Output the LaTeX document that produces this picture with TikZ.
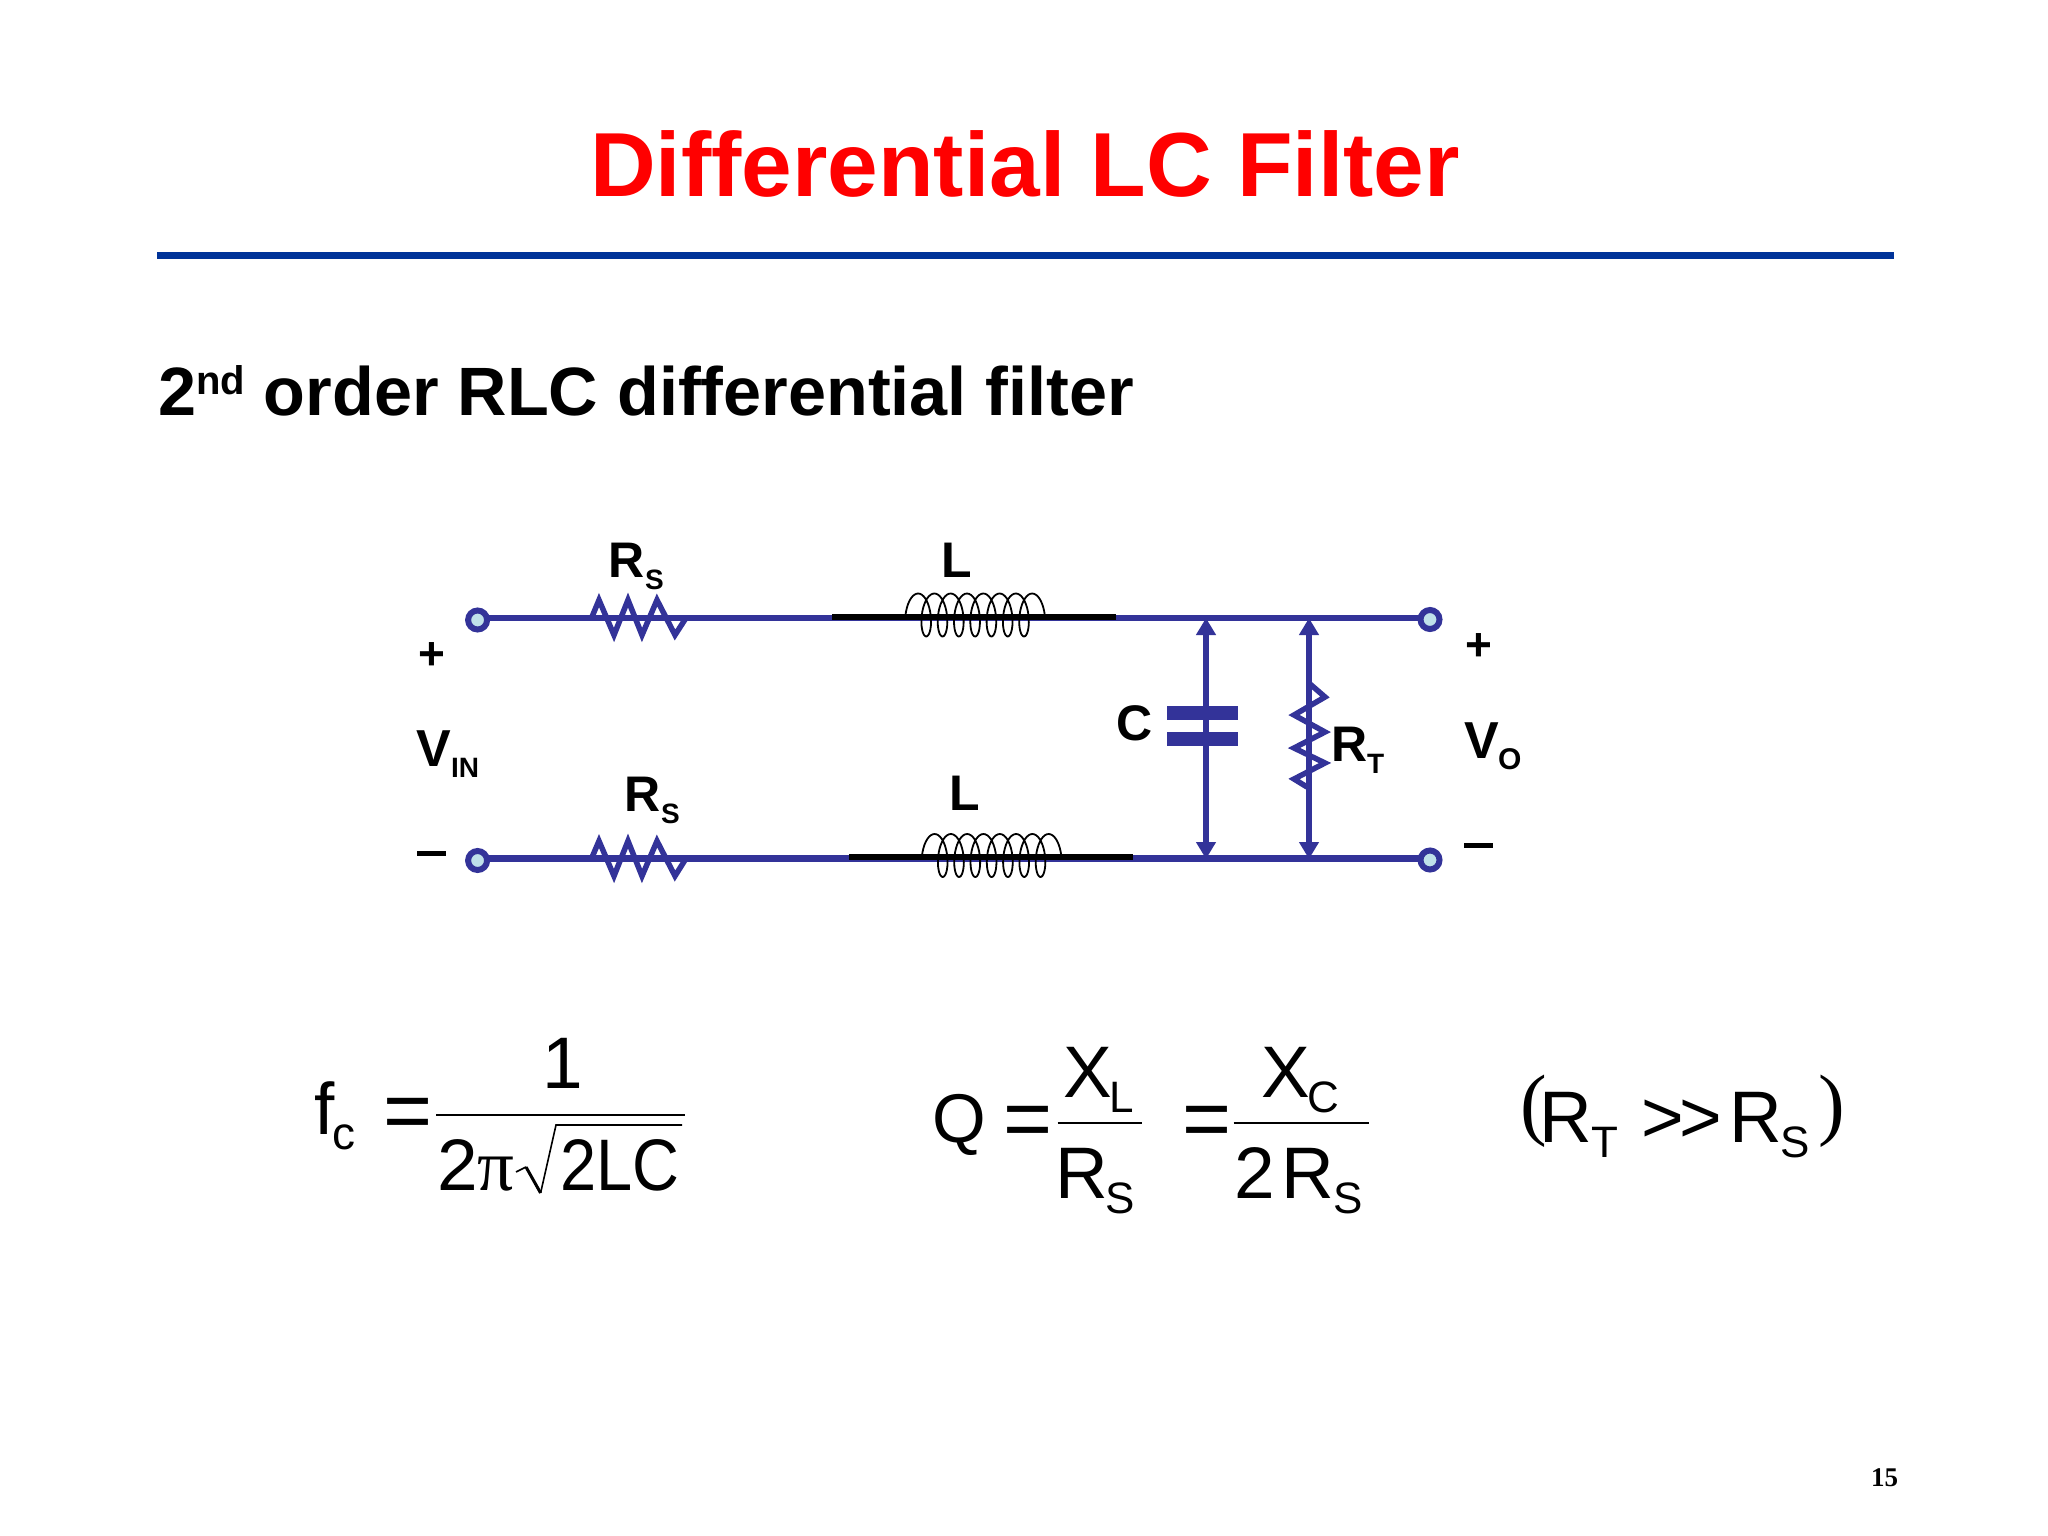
\documentclass[tikz,border=0pt]{standalone}
\usepackage{fontspec}
\setmainfont{Liberation Sans}
\newfontfamily\serifface{Liberation Serif}
\usetikzlibrary{arrows.meta}
\newcommand{\fsz}[1]{\fontsize{#1}{#1}\selectfont}
\definecolor{cct}{HTML}{333399}
\definecolor{termfill}{HTML}{BFE0EA}
\definecolor{rulecol}{HTML}{003399}
\tikzset{
  lab/.style={anchor=base west,inner sep=0pt,outer sep=0pt,text=black},
  cb/.style={lab,font=\bfseries\fsz{50}},
  cs/.style={lab,font=\bfseries\fsz{28}},
  eq/.style={lab,font=\fsz{73}},
  es/.style={lab,font=\fsz{44}},
  wire/.style={draw=cct,line width=6.5pt},
  zig/.style={draw=cct,line width=5.5pt,line join=miter},
  term/.style={circle,draw=cct,fill=termfill,line width=6pt,minimum size=19pt,inner sep=0pt},
  dbl/.style={wire,{Triangle[length=17pt,width=19pt]}-{Triangle[length=17pt,width=19pt]}},
  bar/.style={draw=black,line width=6pt},
  coil/.style={draw=black,line width=1.8pt},
  fracl/.style={draw=black,line width=1.6pt},
}
\begin{document}
\begin{tikzpicture}[x=1pt,y=-1pt]
\useasboundingbox (0,0) rectangle (2048,1536);
\fill[white] (0,0) rectangle (2048,1536);
% title
\node[lab,text=red,font=\bfseries\fsz{91}] (title) at (590,196) {Differential LC Filter};
\fill[rulecol] (157,251.5) rectangle (1894,259);
\node[lab,font=\bfseries\fsz{68.4}] (head) at (158,415) {2\raisebox{0.30em}{\fsz{40}nd} order RLC differential filter};
\node[lab,anchor=base east,font=\serifface\bfseries\fsz{27}] (page) at (1898,1486) {15};
% coordinates
\coordinate (ctop) at (1206,618);
\coordinate (cbot) at (1206,859);
\coordinate (rtop) at (1309,618);
\coordinate (rbot) at (1309,859);
% wires
\draw[wire] (477.6,618) -- (1430,618);
\draw[wire] (477.6,858.5) -- (1430,858.5);
% input resistors
\draw[zig] (558,618) -- (591.5,618) -- (599,600) -- (614,635) -- (628,600) -- (642,635) -- (657,600) -- (675,635) -- (686,618) -- (714,618);
\draw[zig] (558,858.5) -- (591.5,858.5) -- (599,841) -- (614,876) -- (628,841) -- (642,876) -- (657,841) -- (675,876) -- (686,858.5) -- (714,858.5);
% inductors
\draw[coil] plot[domain=0:2700,samples=271,smooth] ({914+(\x/360)*16.3-8.5*cos(\x)},{615-21.5*sin(\x)});
\draw[coil] plot[domain=0:2700,samples=271,smooth] ({930.5+(\x/360)*16.3-8.5*cos(\x)},{855.5-21.5*sin(\x)});
\draw[bar] (832,617) -- (1116,617);
\draw[bar] (849,857) -- (1133,857);
% terminals
\node[term] (tl1) at (477.6,620) {};
\node[term] (tl2) at (477.6,860.5) {};
\node[term] (tr1) at (1430,619.5) {};
\node[term] (tr2) at (1430,860) {};
% capacitor + RT
\draw[dbl] (ctop) -- (cbot);
\draw[dbl] (rtop) -- (rbot);
\fill[cct] (1167,706) rectangle (1238,720);
\fill[cct] (1167,732) rectangle (1238,746);
\draw[zig] (1310,684) -- (1325,697) -- (1294,715) -- (1325,732) -- (1294,748) -- (1325,763) -- (1294,779) -- (1307,787);
% circuit labels
\node[cb] (r1) at (608,577) {R};
\node[cs] (r1s) at (645,589) {S};
\node[cb] (l1) at (941,577) {L};
\node[cb] (r2) at (624,811) {R};
\node[cs] (r2s) at (661,823) {S};
\node[cb] (l2) at (949,810) {L};
\node[cb] (c) at (1116,740) {C};
\node[cb] (rt) at (1331,761) {R};
\node[cs] (rts) at (1367,773) {T};
\node[lab,font=\bfseries\fsz{52}] (vi) at (416,766) {V};
\node[cs] (vis) at (451,777) {IN};
\node[lab,font=\bfseries\fsz{52}] (vo) at (1464,758) {V};
\node[lab,font=\bfseries\fsz{30}] (vos) at (1498,769) {O};
\node[anchor=center,inner sep=0pt,font=\bfseries\fsz{46}] (pl) at (431.5,656) {+};
\node[anchor=center,inner sep=0pt,font=\bfseries\fsz{46}] (pr) at (1479,647) {+};
\fill[black] (417,850.5) rectangle (446,855.5);
\fill[black] (1464,842.5) rectangle (1493,847.5);
% fc
\node[eq] (f) at (314,1134) {f};
\node[lab,font=\fsz{46}] (fc) at (332,1149) {c};
\node[eq,anchor=center,font=\fsz{84}] (e1) at (408,1119) {=};
\draw[fracl] (436,1115) -- (685,1115);
\node[eq] (one) at (542,1088) {1};
\node[eq] (two) at (437,1190) {2};
\node[lab,font=\serifface\fsz{73}] (pi) at (477,1190) {π};
\node[eq] (lc) at (560,1190) {\scalebox{.89}[1]{2LC}};
\draw[black,line width=1.6pt] (516,1172) -- (526,1167);
\draw[black,line width=3pt] (526,1167) -- (540.6,1193);
\draw[black,line width=1.6pt] (540.6,1193) -- (556,1125) -- (682,1125);
% Q
\node[lab,font=\fsz{69}] (q) at (932,1142) {Q};
\node[eq,anchor=center,font=\fsz{84}] (e2) at (1028,1127) {=};
\draw[fracl] (1057.5,1123) -- (1142,1123);
\node[eq] (x1) at (1063,1097) {X};
\node[es] (x1s) at (1109,1112) {L};
\node[eq] (r3) at (1055,1198) {R};
\node[es] (r3s) at (1105,1213) {S};
\node[eq,anchor=center,font=\fsz{84}] (e3) at (1207,1127) {=};
\draw[fracl] (1233.5,1123) -- (1369,1123);
\node[eq] (x2) at (1261,1097) {X};
\node[es] (x2s) at (1307,1112) {C};
\node[eq] (tw) at (1234,1198) {2};
\node[eq] (r4) at (1281,1198) {R};
\node[es] (r4s) at (1333,1213) {S};
% condition
\node[lab,font=\serifface\fsz{80}] (po) at (1520,1130) {(};
\node[eq] (r5) at (1539,1142) {R};
\node[es] (r5s) at (1591,1157) {T};
\node[eq] (gg) at (1641,1142) {>\kern-4pt{}>};
\node[eq] (r6) at (1729,1142) {R};
\node[es] (r6s) at (1780,1157) {S};
\node[lab,font=\serifface\fsz{80}] (pc) at (1818,1130) {)};
\end{tikzpicture}
\end{document}
